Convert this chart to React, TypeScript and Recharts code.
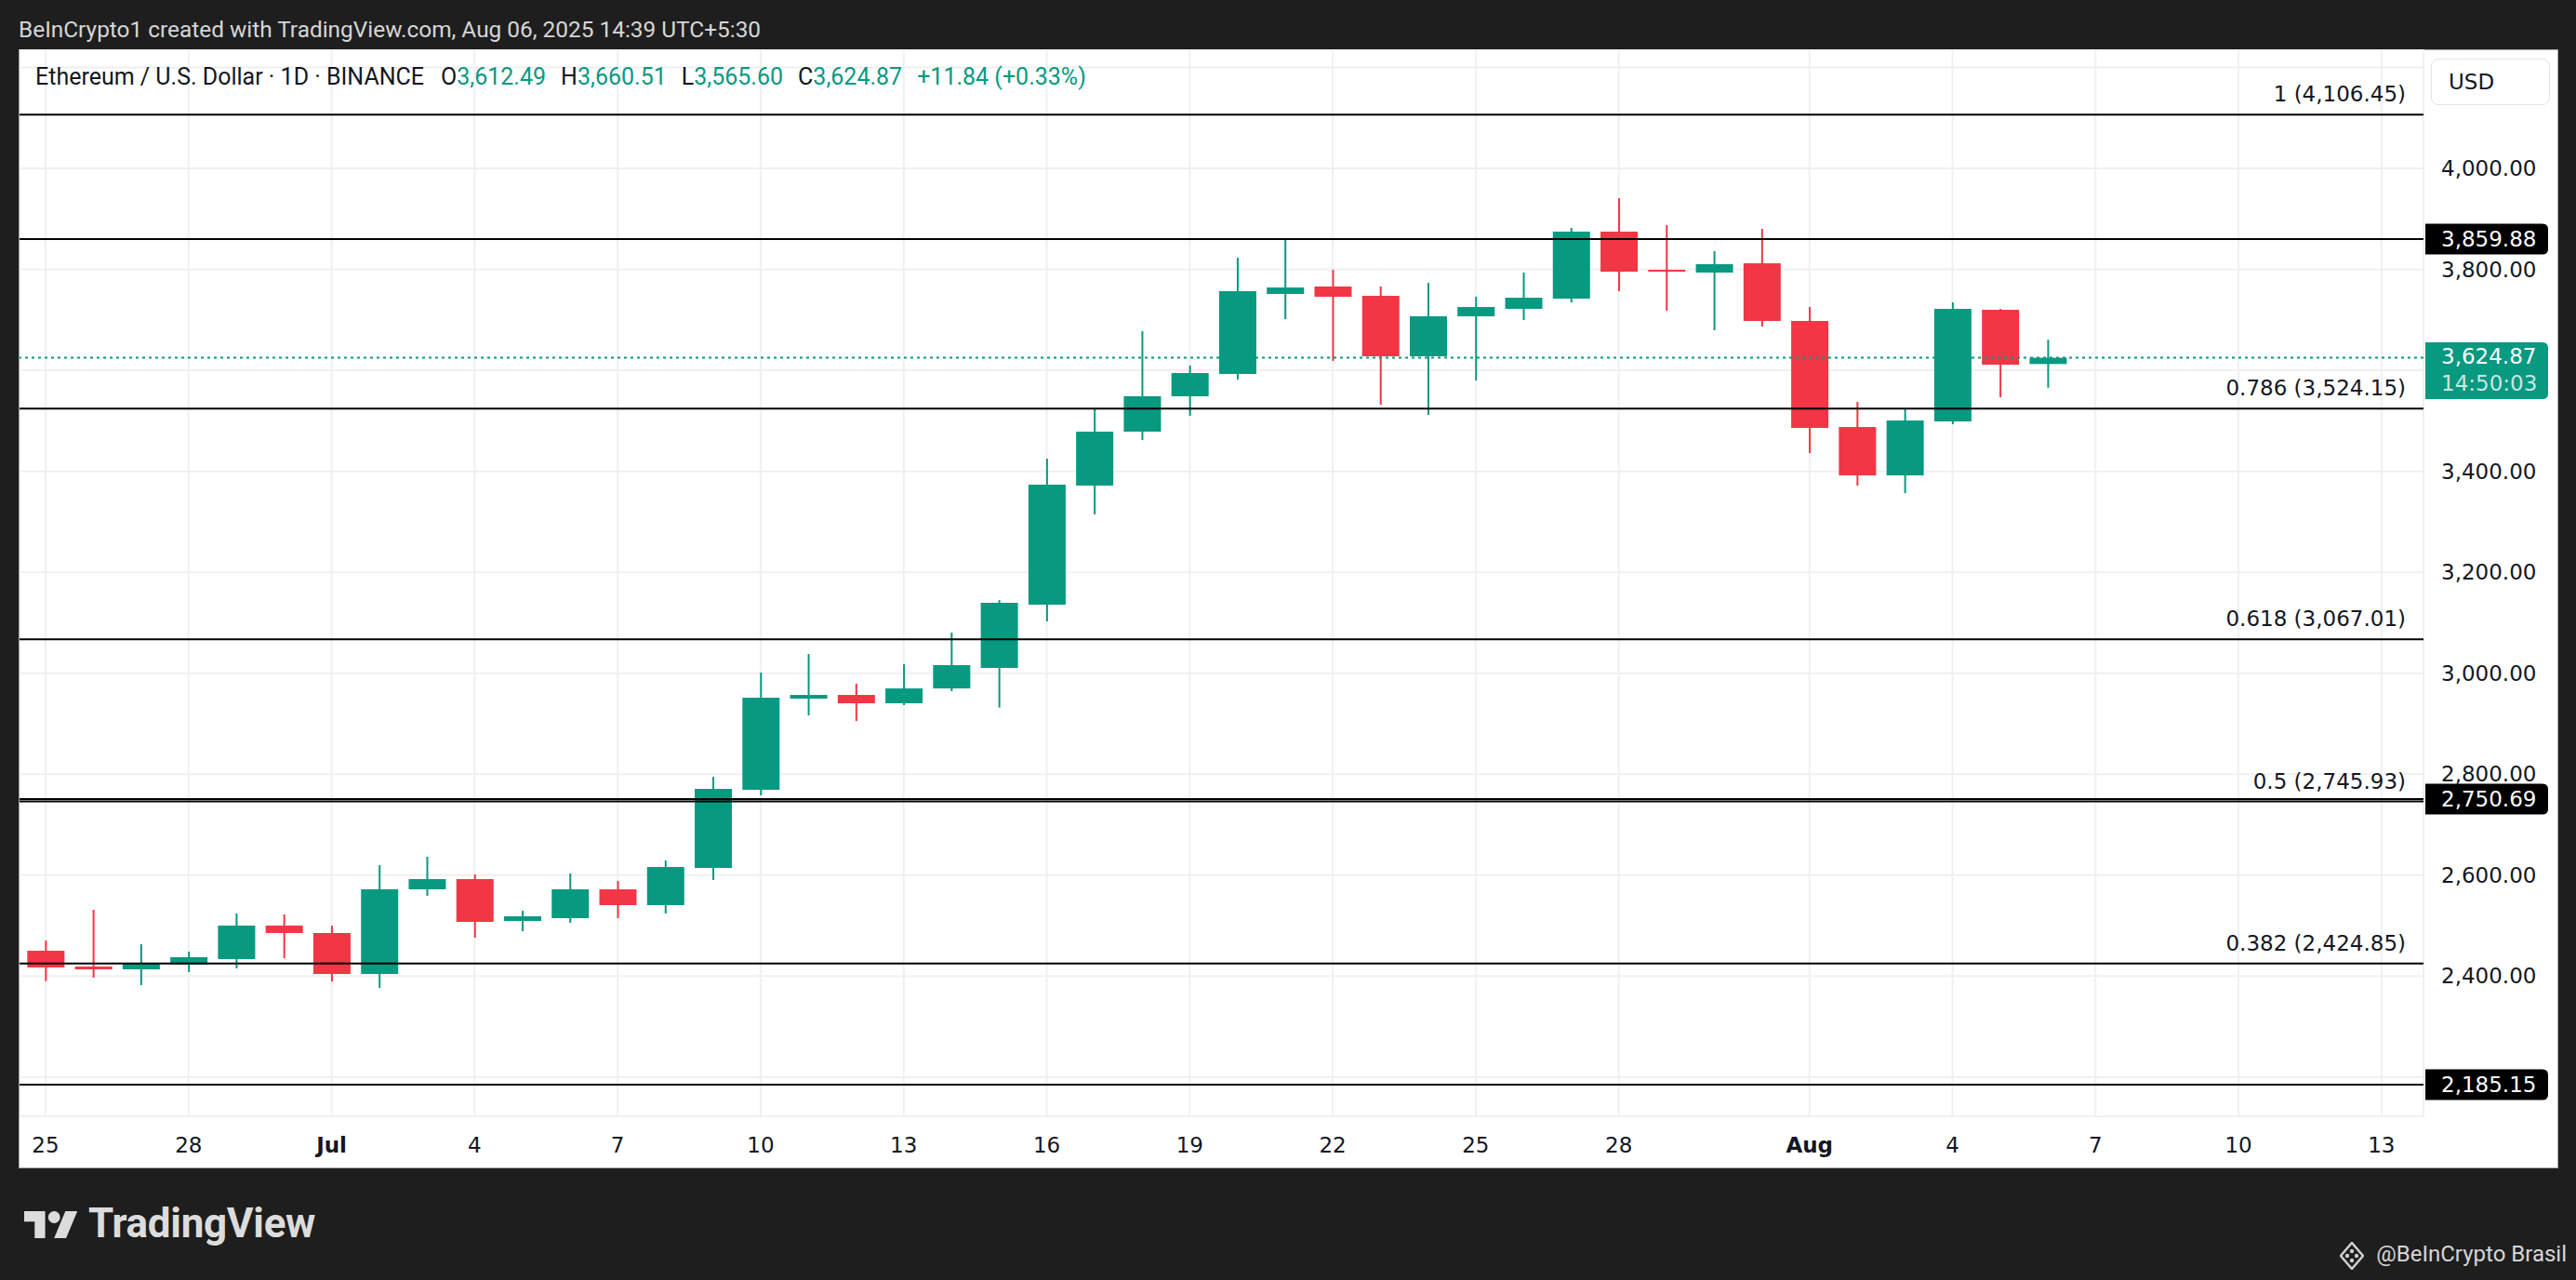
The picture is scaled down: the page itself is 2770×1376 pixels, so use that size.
import React from 'react';
import { ComposedChart, Bar, XAxis, YAxis, CartesianGrid, ReferenceLine } from 'recharts';

// ETH/USD daily candles, Jun 25 -> Aug 6 2025
const days = [
  'Jun 25', 'Jun 26', 'Jun 27', 'Jun 28', 'Jun 29', 'Jun 30', 'Jul 1', 'Jul 2', 'Jul 3', 'Jul 4',
  'Jul 5', 'Jul 6', 'Jul 7', 'Jul 8', 'Jul 9', 'Jul 10', 'Jul 11', 'Jul 12', 'Jul 13', 'Jul 14',
  'Jul 15', 'Jul 16', 'Jul 17', 'Jul 18', 'Jul 19', 'Jul 20', 'Jul 21', 'Jul 22', 'Jul 23', 'Jul 24',
  'Jul 25', 'Jul 26', 'Jul 27', 'Jul 28', 'Jul 29', 'Jul 30', 'Jul 31',
  'Aug 1', 'Aug 2', 'Aug 3', 'Aug 4', 'Aug 5', 'Aug 6',
];

const openPrices = [
  2450.3, 2419, 2413.5, 2422.7, 2433.8, 2500.1, 2485.4, 2404.3, 2572, 2592.2,
  2509.3, 2514.8, 2571.9, 2540.6, 2614.3, 2769.1, 2949.7, 2957, 2940.5, 2969.9,
  3010.5, 3135.8, 3371.7, 3478.5, 3548.6, 3592.8, 3751.2, 3766, 3747.6, 3627.8,
  3707, 3721.7, 3742, 3874.7, 3799.1, 3793.6, 3812,
  3697.8, 3487.7, 3391.9, 3498.8, 3719.9, 3612.49,
];

const highPrices = [
  2470.6, 2531.4, 2463.2, 2448.5, 2524, 2522.2, 2500.1, 2619.9, 2636.5, 2601.4,
  2529.5, 2603.3, 2588.5, 2629.1, 2794.9, 3001.3, 3038.1, 2979.2, 3017.8, 3080.5,
  3144.9, 3425.1, 3524.6, 3677.5, 3609.4, 3823.1, 3859.9, 3799.1, 3766, 3773.3,
  3745.7, 3793.6, 3882, 3941, 3887.6, 3836, 3880.2,
  3725.4, 3537.5, 3522.7, 3734.6, 3721.7, 3660.51,
];

const lowPrices = [
  2390.2, 2397, 2382.2, 2408, 2415.3, 2435.6, 2389.5, 2376.6, 2559.1, 2476.1,
  2489, 2505.6, 2514.8, 2524, 2590.4, 2758, 2916.5, 2905.4, 2936.8, 2964.4,
  2932, 3102.7, 3314.5, 3461.9, 3509.9, 3581.7, 3701.5, 3618.6, 3532, 3511.7,
  3579.8, 3699.6, 3734.6, 3756.7, 3718, 3679.3, 3686.7,
  3436.1, 3371.6, 3356.9, 3493.2, 3546.7, 3565.6,
];

const closePrices = [
  2417.2, 2413.5, 2425.2, 2437.5, 2500.1, 2485.4, 2404.3, 2572, 2592.2, 2507.5,
  2518.5, 2571.9, 2540.6, 2616.2, 2770.9, 2951.5, 2957, 2940.5, 2969.9, 3016,
  3139.5, 3373.5, 3478.5, 3548.6, 3594.6, 3756.8, 3764.1, 3745.7, 3627.8, 3707,
  3725.4, 3743.8, 3874.7, 3795.4, 3795.4, 3810.2, 3697.8,
  3485.9, 3391.9, 3500.6, 3721.7, 3611.2, 3624.87,
];

// x ticks are day offsets from Jun 25
const xTicks = [0, 3, 6, 9, 12, 15, 18, 21, 24, 27, 30, 33, 37, 40, 43, 46, 49];
const xTickLabels = ['25', '28', 'Jul', '4', '7', '10', '13', '16', '19', '22', '25', '28', 'Aug', '4', '7', '10', '13'];
const monthTicks = ['Jul', 'Aug'];

const yTicks = [2200, 2400, 2600, 2800, 3000, 3200, 3400, 3600, 3800, 4000, 4200];

const fibLevels = [
  { text: '1 (4,106.45)', value: 4106.45 },
  { text: '0.786 (3,524.15)', value: 3524.15 },
  { text: '0.618 (3,067.01)', value: 3067.01 },
  { text: '0.5 (2,745.93)', value: 2745.93 },
  { text: '0.382 (2,424.85)', value: 2424.85 },
];
const markedLevels = [3859.88, 2750.69, 2185.15];
const lastPrice = 3624.87;
const countdown = '14:50:03';

const UP = '#089981';
const DOWN = '#F23645';
const TEXT = '#131722';
const AXIS_FONT = 'DejaVu Sans';
const UI_FONT = 'Roboto';

const data = days.map((day, i) => ({
  i,
  day,
  open: openPrices[i],
  high: highPrices[i],
  low: lowPrices[i],
  close: closePrices[i],
  range: [lowPrices[i], highPrices[i]],
}));

const fmt = (v: number) =>
  v.toLocaleString('en-US', { minimumFractionDigits: 2, maximumFractionDigits: 2 });

// axis labels sitting under a price tag (or the USD button) are covered in the original
const coveredByTag = (v: number) =>
  v > 4150 ||
  markedLevels.some((m) => Math.abs(m - v) < 30) ||
  (v < lastPrice + 30 && v > lastPrice - 85);

const Candle = (props: any) => {
  const { x, y, width, height, payload } = props;
  if (!payload || height == null) return null;
  const { open, close, high, low } = payload;
  const top = Math.min(y, y + height);
  const h = Math.abs(height);
  const k = h / (high - low || 1);
  const color = close >= open ? UP : DOWN;
  const bodyTop = top + (high - Math.max(open, close)) * k;
  const bodyH = Math.max(Math.abs(open - close) * k, 2);
  const cx = x + width / 2;
  return (
    <g>
      <rect x={cx - 1} y={top} width={2} height={h} fill={color} />
      <rect x={x} y={bodyTop} width={width} height={bodyH} fill={color} />
    </g>
  );
};

const XTick = (props: any) => {
  const { x, y, payload } = props;
  const label = xTickLabels[xTicks.indexOf(payload.value)];
  return (
    <text
      x={x}
      y={y + 31}
      textAnchor="middle"
      dominantBaseline="central"
      fontSize={23}
      fontFamily={AXIS_FONT}
      fontWeight={monthTicks.includes(label) ? 'bold' : 'normal'}
      fill={TEXT}
    >
      {label}
    </text>
  );
};

const YTick = (props: any) => {
  const { x, y, payload } = props;
  if (coveredByTag(payload.value)) return <g />;
  return (
    <text x={x} y={y} dominantBaseline="central" fontSize={23} fontFamily={AXIS_FONT} fill={TEXT}>
      {fmt(payload.value)}
    </text>
  );
};

const fibLabel = (text: string) => (props: any) => {
  const vb = props.viewBox;
  return (
    <text
      x={vb.x + vb.width - 19}
      y={vb.y - 14}
      textAnchor="end"
      fontSize={23}
      fontFamily={AXIS_FONT}
      fill={TEXT}
    >
      {text}
    </text>
  );
};

// rounded on the right side only, like TradingView axis tags
const tagPath = (x: number, y: number, w: number, h: number, r: number) =>
  `M${x},${y} H${x + w - r} Q${x + w},${y} ${x + w},${y + r} V${y + h - r} Q${x + w},${y + h} ${x + w - r},${y + h} H${x} Z`;

const tagLabel = (value: number) => (props: any) => {
  const { x, y, width } = props.viewBox;
  const left = x + width + 2;
  return (
    <g>
      <path d={tagPath(left, y - 16.5, 132, 33, 6)} fill="#000000" />
      <text x={left + 17} y={y} dominantBaseline="central" fontSize={23} fontFamily={AXIS_FONT} fill="#ffffff">
        {fmt(value)}
      </text>
    </g>
  );
};

const priceTag = (props: any) => {
  const { x, y, width } = props.viewBox;
  const left = x + width + 2;
  return (
    <g>
      <path d={tagPath(left, y - 16.5, 132, 61, 6)} fill={UP} />
      <text x={left + 17} y={y - 1.5} dominantBaseline="central" fontSize={23} fontFamily={AXIS_FONT} fill="#ffffff">
        {fmt(lastPrice)}
      </text>
      <text x={left + 17} y={y + 27.5} dominantBaseline="central" fontSize={23} fontFamily={AXIS_FONT} fill="rgba(255,255,255,0.78)">
        {countdown}
      </text>
    </g>
  );
};

const TvLogo = () => (
  <svg width={58} height={29} viewBox="0 4 36 18" style={{ position: 'absolute', left: 26, top: 1302 }}>
    <path d="M14 22H7V11H0V4h14v18z" fill="#dcdcdc" />
    <circle cx={20} cy={8} r={4} fill="#dcdcdc" />
    <path d="M28 22h-8l7.5-18h8L28 22z" fill="#dcdcdc" />
  </svg>
);

const BicIcon = () => (
  <svg width={26} height={30} viewBox="0 0 26 30" style={{ position: 'absolute', left: 2516, top: 1335 }}>
    <path d="M13 1 L25 15 L13 29 L1 15 Z" fill="none" stroke="#cfcfcf" strokeWidth={2.5} />
    <circle cx={13} cy={10} r={2.2} fill="#cfcfcf" />
    <circle cx={8} cy={15} r={2.2} fill="#cfcfcf" />
    <circle cx={18} cy={15} r={2.2} fill="#cfcfcf" />
    <circle cx={13} cy={20} r={2.2} fill="#cfcfcf" />
  </svg>
);

export default function App() {
  const green = { color: UP };
  return (
    <div
      style={{
        position: 'absolute',
        left: 0,
        top: 0,
        width: 2770,
        height: 1376,
        background: '#1e1e1e',
        overflow: 'hidden',
        fontFamily: UI_FONT,
      }}
    >
      <div style={{ position: 'absolute', left: 20, top: 17, fontSize: 24.4, color: '#d6d6d6', whiteSpace: 'nowrap' }}>
        BeInCrypto1 created with TradingView.com, Aug 06, 2025 14:39 UTC+5:30
      </div>

      <div
        style={{
          position: 'absolute',
          left: 20,
          top: 53,
          width: 2731,
          height: 1203,
          background: '#ffffff',
          border: '1px solid #a8a8a8',
          boxSizing: 'border-box',
        }}
      />

      <div style={{ position: 'absolute', left: 21, top: 53 }}>
        <ComposedChart width={2729} height={1203} data={data} margin={{ top: 0, right: 0, bottom: 0, left: 0 }}>
          <CartesianGrid stroke="#f0f0f0" strokeWidth={2} />
          <XAxis
            type="number"
            dataKey="i"
            domain={[-0.546, 49.88]}
            ticks={xTicks}
            interval={0}
            allowDataOverflow
            axisLine={false}
            tickLine={false}
            tickSize={0}
            tickMargin={0}
            height={56}
            tick={<XTick />}
          />
          <YAxis
            orientation="right"
            domain={[2122.4, 4235.9]}
            ticks={yTicks}
            interval={0}
            allowDataOverflow
            axisLine={false}
            tickLine={false}
            tickSize={0}
            tickMargin={19}
            width={144}
            tick={<YTick />}
          />
          <ReferenceLine y={lastPrice} stroke={UP} strokeWidth={2} strokeDasharray="3 4" label={priceTag} />
          <Bar dataKey="range" barSize={40} shape={<Candle />} isAnimationActive={false} />
          {fibLevels.map((f) => (
            <ReferenceLine key={f.text} y={f.value} stroke="#000000" strokeWidth={2} label={fibLabel(f.text)} />
          ))}
          {markedLevels.map((v) => (
            <ReferenceLine key={v} y={v} stroke="#000000" strokeWidth={2} label={tagLabel(v)} />
          ))}
        </ComposedChart>
      </div>

      <div
        style={{
          position: 'absolute',
          left: 38,
          top: 68,
          fontSize: 25,
          color: TEXT,
          whiteSpace: 'nowrap',
        }}
      >
        Ethereum / U.S. Dollar · 1D · BINANCE
        <span style={{ marginLeft: 18 }}>O</span><span style={green}>3,612.49</span>
        <span style={{ marginLeft: 16 }}>H</span><span style={green}>3,660.51</span>
        <span style={{ marginLeft: 16 }}>L</span><span style={green}>3,565.60</span>
        <span style={{ marginLeft: 16 }}>C</span><span style={green}>3,624.87</span>
        <span style={{ marginLeft: 16, color: UP }}>+11.84 (+0.33%)</span>
      </div>

      <div
        style={{
          position: 'absolute',
          left: 2614,
          top: 63,
          width: 128,
          height: 50,
          background: '#ffffff',
          border: '1px solid #e0e3eb',
          borderRadius: 8,
          boxSizing: 'border-box',
          fontFamily: AXIS_FONT,
          fontSize: 23,
          color: TEXT,
          lineHeight: '48px',
          paddingLeft: 18,
        }}
      >
        USD
      </div>

      <TvLogo />
      <div
        style={{
          position: 'absolute',
          left: 95,
          top: 1289,
          fontSize: 44,
          fontWeight: 700,
          color: '#dcdcdc',
          letterSpacing: -0.3,
        }}
      >
        TradingView
      </div>

      <BicIcon />
      <div style={{ position: 'absolute', right: 10, top: 1334, fontSize: 24, color: '#d6d6d6', whiteSpace: 'nowrap' }}>
        @BeInCrypto Brasil
      </div>
    </div>
  );
}
